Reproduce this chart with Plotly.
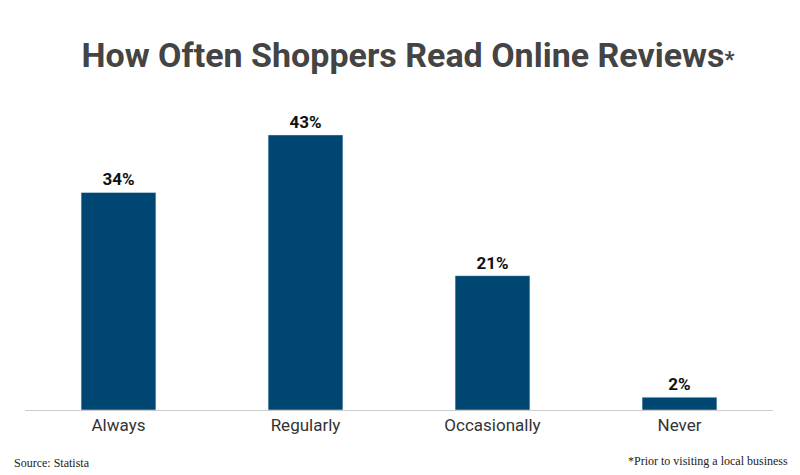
import plotly.graph_objects as go

categories = ["Always", "Regularly", "Occasionally", "Never"]
values = [34, 43, 21, 2]
labels = ["<b>34%</b>", "<b>43%</b>", "<b>21%</b>", "<b>2%</b>"]

fig = go.Figure(go.Bar(
    x=categories, y=values, text=labels, textposition="outside",
    marker_color="#004673", cliponaxis=False,
    textfont=dict(family="Roboto", size=17, color="#111"),
))
fig.update_layout(
    width=800, height=475, plot_bgcolor="white", paper_bgcolor="white",
    margin=dict(l=17, r=35, t=93, b=73), bargap=0.6, showlegend=False,
    title=dict(text="<b>How Often Shoppers Read Online Reviews</b><span style='font-size:22px'><b>*</b></span>",
               x=0.5, xanchor="center", y=0.9, yanchor="middle",
               font=dict(family="Roboto", size=34, color="#444")),
    xaxis=dict(showline=True, linecolor="#ccc", tickfont=dict(family="Roboto", size=17, color="#333"), ticks=""),
    yaxis=dict(visible=False, range=[0, 48.3]),
    annotations=[
        dict(text="Source: Statista", x=0, xref="paper", xanchor="left", xshift=-13,
             y=0, yref="paper", yshift=-62, yanchor="bottom", showarrow=False,
             font=dict(family="Liberation Serif", size=12, color="#222")),
        dict(text="*Prior to visiting a local business", x=1, xref="paper", xanchor="right", xshift=17,
             y=0, yref="paper", yshift=-60, yanchor="bottom", showarrow=False,
             font=dict(family="Liberation Serif", size=12, color="#222")),
    ],
)
fig.write_html("out.html")
